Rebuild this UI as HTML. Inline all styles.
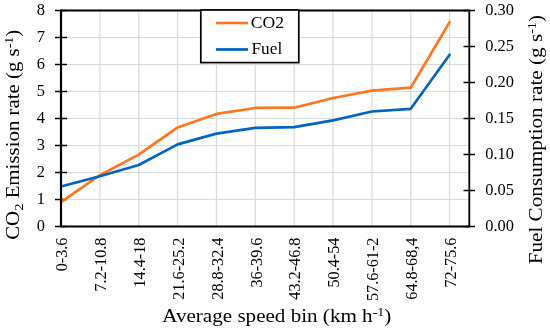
<!DOCTYPE html><html><head><meta charset="utf-8"><style>html,body{margin:0;padding:0;background:#fff;width:550px;height:331px;overflow:hidden}svg{display:block}text{font-family:"Liberation Serif",serif;fill:#000}</style></head><body>
<svg width="550" height="331" viewBox="0 0 550 331">
<rect x="0" y="0" width="550" height="331" fill="#fff"/>
<path d="M99.86 10.50V226.50M138.72 10.50V226.50M177.58 10.50V226.50M216.44 10.50V226.50M255.30 10.50V226.50M294.16 10.50V226.50M333.02 10.50V226.50M371.88 10.50V226.50M410.74 10.50V226.50M449.60 10.50V226.50M61.00 199.50H469.00M61.00 172.50H469.00M61.00 145.50H469.00M61.00 118.50H469.00M61.00 91.50H469.00M61.00 64.50H469.00M61.00 37.50H469.00" stroke="#d9d9d9" stroke-width="1.2" fill="none"/>
<defs><clipPath id="pc"><rect x="60.2" y="0" width="408.0" height="331"/></clipPath></defs>
<path d="M55 226.50H67M55 199.50H67M55 172.50H67M55 145.50H67M55 118.50H67M55 91.50H67M55 64.50H67M55 37.50H67M55 10.50H67M463.5 226.50H475M463.5 190.50H475M463.5 154.50H475M463.5 118.50H475M463.5 82.50H475M463.5 46.50H475M463.5 10.50H475" stroke="#000" stroke-width="1.6" fill="none"/>
<polyline points="61.00,202.20 99.86,175.20 138.72,154.68 177.58,127.41 216.44,113.91 255.30,107.97 294.16,107.70 333.02,97.98 371.88,90.69 410.74,87.72 449.60,22.11" fill="none" stroke="#ff761f" stroke-width="2.7" stroke-linejoin="round" stroke-linecap="round" clip-path="url(#pc)"/>
<polyline points="61.00,186.54 99.86,176.28 138.72,164.94 177.58,144.42 216.44,133.62 255.30,127.95 294.16,127.14 333.02,120.39 371.88,111.48 410.74,108.78 449.60,54.78" fill="none" stroke="#0565c2" stroke-width="2.7" stroke-linejoin="round" stroke-linecap="round" clip-path="url(#pc)"/>
<path d="M61.0 10.5H469.0M61.0 226.5H469.0" stroke="#000" stroke-width="1.9" fill="none"/>
<path d="M61.0 9.6V227.4" stroke="#000" stroke-width="2.2" fill="none"/>
<path d="M469.3 9.6V227.4" stroke="#000" stroke-width="1.8" fill="none"/>
<text x="45" y="231.10" font-size="16.4" text-anchor="end">0</text>
<text x="45" y="204.10" font-size="16.4" text-anchor="end">1</text>
<text x="45" y="177.10" font-size="16.4" text-anchor="end">2</text>
<text x="45" y="150.10" font-size="16.4" text-anchor="end">3</text>
<text x="45" y="123.10" font-size="16.4" text-anchor="end">4</text>
<text x="45" y="96.10" font-size="16.4" text-anchor="end">5</text>
<text x="45" y="69.10" font-size="16.4" text-anchor="end">6</text>
<text x="45" y="42.10" font-size="16.4" text-anchor="end">7</text>
<text x="45" y="15.10" font-size="16.4" text-anchor="end">8</text>
<text x="485.2" y="231.10" font-size="16.4">0.00</text>
<text x="485.2" y="195.10" font-size="16.4">0.05</text>
<text x="485.2" y="159.10" font-size="16.4">0.10</text>
<text x="485.2" y="123.10" font-size="16.4">0.15</text>
<text x="485.2" y="87.10" font-size="16.4">0.20</text>
<text x="485.2" y="51.10" font-size="16.4">0.25</text>
<text x="485.2" y="15.10" font-size="16.4">0.30</text>
<text transform="translate(67.20,237.6) rotate(-90)" font-size="16.2" text-anchor="end">0-3.6</text>
<text transform="translate(106.06,237.6) rotate(-90)" font-size="16.2" text-anchor="end">7.2-10.8</text>
<text transform="translate(144.92,237.6) rotate(-90)" font-size="16.2" text-anchor="end">14.4-18</text>
<text transform="translate(183.78,237.6) rotate(-90)" font-size="16.2" text-anchor="end">21.6-25.2</text>
<text transform="translate(222.64,237.6) rotate(-90)" font-size="16.2" text-anchor="end">28.8-32.4</text>
<text transform="translate(261.50,237.6) rotate(-90)" font-size="16.2" text-anchor="end">36-39.6</text>
<text transform="translate(300.36,237.6) rotate(-90)" font-size="16.2" text-anchor="end">43.2-46.8</text>
<text transform="translate(339.22,237.6) rotate(-90)" font-size="16.2" text-anchor="end">50.4-54</text>
<text transform="translate(378.08,237.6) rotate(-90)" font-size="16.2" text-anchor="end">57.6-61-2</text>
<text transform="translate(416.94,237.6) rotate(-90)" font-size="16.2" text-anchor="end">64.8-68,4</text>
<text transform="translate(455.80,237.6) rotate(-90)" font-size="16.2" text-anchor="end">72-75.6</text>
<text transform="translate(162.3,321.5) scale(1.082,1)" font-size="19.5">Average speed bin (km h<tspan font-size="13" dy="-6">-1</tspan><tspan dy="6">)</tspan></text>
<text transform="translate(18.8,239.8) rotate(-90) scale(1.071,1)" font-size="19.5">CO<tspan font-size="13.5" dy="4.5">2</tspan><tspan dy="-4.5"> Emission rate (g s</tspan><tspan font-size="13" dy="-6">-1</tspan><tspan dy="6">)</tspan></text>
<text transform="translate(541.6,264.3) rotate(-90) scale(1.086,1)" font-size="19.5">Fuel Consumption rate (g s<tspan font-size="13" dy="-6">-1</tspan><tspan dy="6">)</tspan></text>
<rect x="200.8" y="10" width="98" height="52.6" fill="#fff" stroke="#000" stroke-width="1.7"/>
<path d="M216 23H248" stroke="#ff761f" stroke-width="2.6"/>
<path d="M216 49.5H248" stroke="#0565c2" stroke-width="2.8"/>
<text transform="translate(250.8,27.9) scale(1.1,1)" font-size="16">CO2</text>
<text transform="translate(251.5,54) scale(1.08,1)" font-size="16">Fuel</text>
</svg></body></html>
